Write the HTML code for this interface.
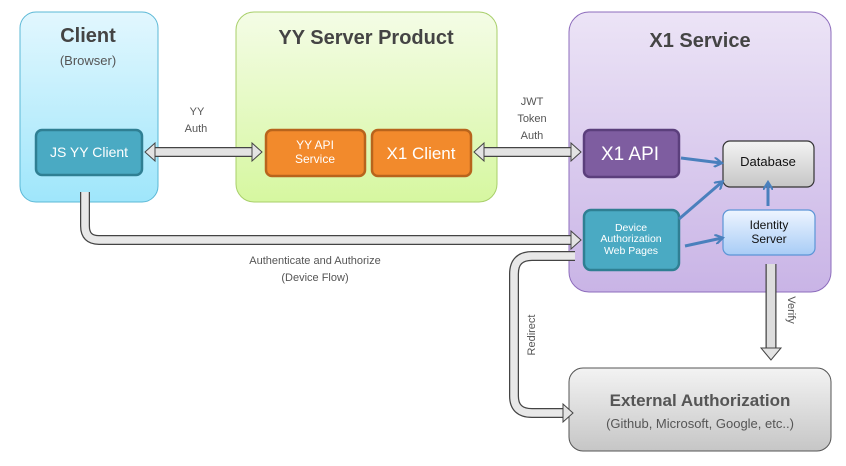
<!DOCTYPE html>
<html><head><meta charset="utf-8"><style>
html,body{margin:0;padding:0;background:#fff;}
svg{display:block;font-family:"Liberation Sans","DejaVu Sans",sans-serif;}
</style></head><body>
<svg width="846" height="466" viewBox="0 0 846 466" xmlns="http://www.w3.org/2000/svg">
<defs>
<linearGradient id="gc" x1="0" y1="0" x2="0" y2="1"><stop offset="0" stop-color="#e2f7fe"/><stop offset="1" stop-color="#9fe6fb"/></linearGradient>
<linearGradient id="gy" x1="0" y1="0" x2="0" y2="1"><stop offset="0" stop-color="#f4fce6"/><stop offset="1" stop-color="#d6f7a0"/></linearGradient>
<linearGradient id="gx" x1="0" y1="0" x2="0" y2="1"><stop offset="0" stop-color="#ece4f6"/><stop offset="1" stop-color="#c9b4e6"/></linearGradient>
<linearGradient id="gg" x1="0" y1="0" x2="0" y2="1"><stop offset="0" stop-color="#f3f3f3"/><stop offset="1" stop-color="#c6c6c6"/></linearGradient>
<linearGradient id="gi" x1="0" y1="0" x2="0" y2="1"><stop offset="0" stop-color="#eef5ff"/><stop offset="1" stop-color="#a8ccf6"/></linearGradient>
<marker id="ba" markerWidth="10" markerHeight="10" refX="7" refY="5" orient="auto" markerUnits="userSpaceOnUse"><path d="M0,0 L8,5 L0,10" fill="none" stroke="#4a80bd" stroke-width="2.2"/></marker>
</defs>
<rect x="20" y="12" width="138" height="190" rx="16" fill="url(#gc)" stroke="#5bb8d6"/>
<rect x="236" y="12" width="261" height="190" rx="18" fill="url(#gy)" stroke="#a8cf6a"/>
<rect x="569" y="12" width="262" height="280" rx="20" fill="url(#gx)" stroke="#8d6cbc"/>
<rect x="569" y="368" width="262" height="83" rx="14" fill="url(#gg)" stroke="#555"/>
<text x="88" y="42" text-anchor="middle" font-size="20" font-weight="bold" fill="#444">Client</text>
<text x="88" y="65" text-anchor="middle" font-size="13" fill="#555">(Browser)</text>
<text x="366" y="44" text-anchor="middle" font-size="20" font-weight="bold" fill="#444">YY Server Product</text>
<text x="700" y="47" text-anchor="middle" font-size="20" font-weight="bold" fill="#444">X1 Service</text>
<text x="700" y="406" text-anchor="middle" font-size="17" font-weight="bold" fill="#555">External  Authorization</text>
<text x="700" y="428" text-anchor="middle" font-size="13" fill="#555">(Github, Microsoft, Google, etc..)</text>
<g fill="none" stroke-linejoin="round">
<path d="M85,192 V226 Q85,240 99,240 H574" stroke="#444" stroke-width="10"/>
<path d="M85,192 V226 Q85,240 99,240 H574" stroke="#e8e8e8" stroke-width="7.5"/>
<path d="M575,256 H532 Q514,256 514,274 V396 Q514,413 532,413 H564" stroke="#444" stroke-width="10"/>
<path d="M575,256 H532 Q514,256 514,274 V396 Q514,413 532,413 H564" stroke="#e8e8e8" stroke-width="7.5"/>
<path d="M771,264 V348" stroke="#444" stroke-width="11"/>
<path d="M771,264 V348" stroke="#ddd" stroke-width="8.5"/>
<path d="M152,152 H255" stroke="#444" stroke-width="10"/><path d="M152,152 H255" stroke="#e3e3e3" stroke-width="7.5"/>
<path d="M482,152 H572" stroke="#444" stroke-width="10"/><path d="M482,152 H572" stroke="#e3e3e3" stroke-width="7.5"/>
</g>
<g fill="#e3e3e3" stroke="#444" stroke-width="1">
<polygon points="145,152 155,143 155,161"/><polygon points="262,152 252,143 252,161"/>
<polygon points="474,152 484,143 484,161"/><polygon points="581,152 571,143 571,161"/>
<polygon points="581,240 571,231 571,249"/>
<polygon points="573,413 563,404 563,422"/>
<polygon points="771,360 761,348 781,348"/>
</g>
<text x="197" y="115" text-anchor="middle" font-size="11" fill="#555">YY</text>
<text x="196" y="132" text-anchor="middle" font-size="11" fill="#555">Auth</text>
<text x="532" y="105" text-anchor="middle" font-size="11" fill="#555">JWT</text>
<text x="532" y="122" text-anchor="middle" font-size="11" fill="#555">Token</text>
<text x="532" y="139" text-anchor="middle" font-size="11" fill="#555">Auth</text>
<text x="315" y="264" text-anchor="middle" font-size="11" fill="#555">Authenticate and Authorize</text>
<text x="315" y="281" text-anchor="middle" font-size="11" fill="#555">(Device Flow)</text>
<text transform="translate(535,335) rotate(-90)" text-anchor="middle" font-size="11" fill="#555">Redirect</text>
<text transform="translate(788,310) rotate(90)" text-anchor="middle" font-size="11" fill="#555">Verify</text>
<rect x="36" y="130" width="106" height="45" rx="6" fill="#4aaac3" stroke="#2f7f93" stroke-width="2.5"/>
<text x="89" y="157" text-anchor="middle" font-size="14" fill="#fff">JS YY Client</text>
<rect x="266" y="130" width="99" height="46" rx="6" fill="#f28a2c" stroke="#b8641c" stroke-width="2.5"/>
<text x="315" y="149" text-anchor="middle" font-size="12" fill="#fff">YY API</text>
<text x="315" y="163" text-anchor="middle" font-size="12" fill="#fff">Service</text>
<rect x="372" y="130" width="99" height="46" rx="6" fill="#f28a2c" stroke="#b8641c" stroke-width="2.5"/>
<text x="421" y="159" text-anchor="middle" font-size="17" fill="#fff">X1 Client</text>
<rect x="584" y="130" width="95" height="47" rx="6" fill="#7e5da0" stroke="#5b3f7c" stroke-width="2.5"/>
<text x="630" y="160" text-anchor="middle" font-size="19" fill="#fff">X1 API</text>
<rect x="584" y="210" width="95" height="60" rx="7" fill="#4aaac3" stroke="#2f7f93" stroke-width="2.5"/>
<text x="631" y="231" text-anchor="middle" font-size="10.5" fill="#fff">Device</text>
<text x="631" y="242" text-anchor="middle" font-size="10.5" fill="#fff">Authorization</text>
<text x="631" y="254" text-anchor="middle" font-size="10.5" fill="#fff">Web Pages</text>
<rect x="723" y="141" width="91" height="46" rx="7" fill="url(#gg)" stroke="#333" stroke-width="1.2"/>
<text x="768" y="166" text-anchor="middle" font-size="13" fill="#111">Database</text>
<rect x="723" y="210" width="92" height="45" rx="7" fill="url(#gi)" stroke="#5b95d6" stroke-width="1.2"/>
<text x="769" y="229" text-anchor="middle" font-size="12" fill="#111">Identity</text>
<text x="769" y="243" text-anchor="middle" font-size="12" fill="#111">Server</text>
<g stroke="#4a80bd" stroke-width="3" fill="none">
<line x1="681" y1="158" x2="721" y2="163" marker-end="url(#ba)"/>
<line x1="679" y1="219" x2="722" y2="182" marker-end="url(#ba)"/>
<line x1="685" y1="246" x2="722" y2="238" marker-end="url(#ba)"/>
<line x1="768" y1="206" x2="768" y2="183" marker-end="url(#ba)"/>
</g>
</svg>
</body></html>
